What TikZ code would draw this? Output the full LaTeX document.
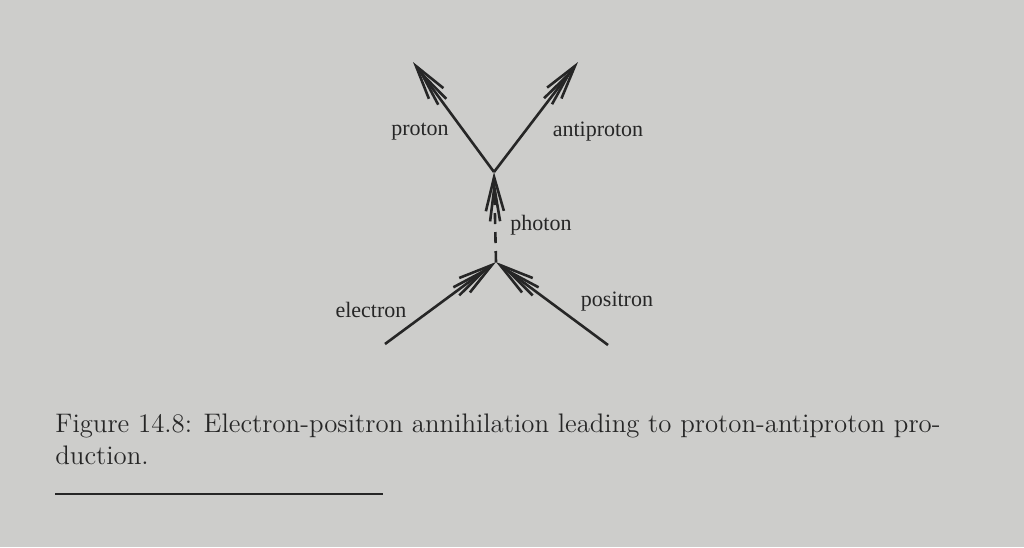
\documentclass[tikz,border=0pt]{standalone}
\usepackage{fontspec}
\newfontfamily\labelfont{Liberation Serif}
\usetikzlibrary{arrows.meta}
\definecolor{pagegrey}{HTML}{CDCDCB}
\definecolor{inkgrey}{HTML}{262626}
\tikzstyle{particle} = [font=\labelfont\fontsize{11}{13}\selectfont, text=inkgrey, inner sep=0pt]
\tikzstyle{caption} = [font=\fontsize{13.4}{16}\selectfont, text=inkgrey, inner sep=0pt, anchor=base west]
\tikzstyle{arrow} = [line width=1.3pt, draw=inkgrey,
-{Straight Barb[length=17pt,width=5pt,sep=-17pt]Straight Barb[length=17pt,width=9pt]}]
\tikzstyle{photonline} = [arrow, dash pattern=on 5.5pt off 4pt]

\begin{document}
\begin{tikzpicture}[x=0.5pt, y=-0.5pt]

\fill[pagegrey] (0,0) rectangle (1024,547);
\useasboundingbox (0,0) rectangle (1024,547);

% ------------------------- vertices -------------------------

\coordinate (top) at (494,172);
\coordinate (bottom) at (496,262);
\coordinate (pend) at (413,62);
\coordinate (aend) at (578,62);
\coordinate (estart) at (385,344);
\coordinate (pstart) at (608,345);

% ------------------------- lines -------------------------

\draw[arrow] (estart) -- (bottom);
\draw[arrow] (pstart) -- (bottom);
\draw[photonline] (bottom) -- (top);
\draw[arrow] (top) -- (pend);
\draw[arrow] (top) -- (aend);

% ------------------------- labels -------------------------

% ----- node: proton
\node(proton)[particle] at (420,132) {proton};
% ----- node: antiproton
\node(antiproton)[particle] at (598,132) {antiproton};
% ----- node: photon
\node(photon)[particle] at (541,225) {photon};
% ----- node: electron
\node(electron)[particle] at (371,310) {electron};
% ----- node: positron
\node(positron)[particle] at (617,302) {positron};

% ------------------------- caption -------------------------

\node(cap1)[caption] at (55,432) {Figure 14.8: Electron-positron annihilation leading to proton-antiproton pro-};
\node(cap2)[caption] at (55,464) {duction.};
\coordinate (rulel) at (55,494);
\coordinate (ruler) at (383,494);
\draw[inkgrey, line width=0.6pt] (rulel) -- (ruler);

\end{tikzpicture}
\end{document}
